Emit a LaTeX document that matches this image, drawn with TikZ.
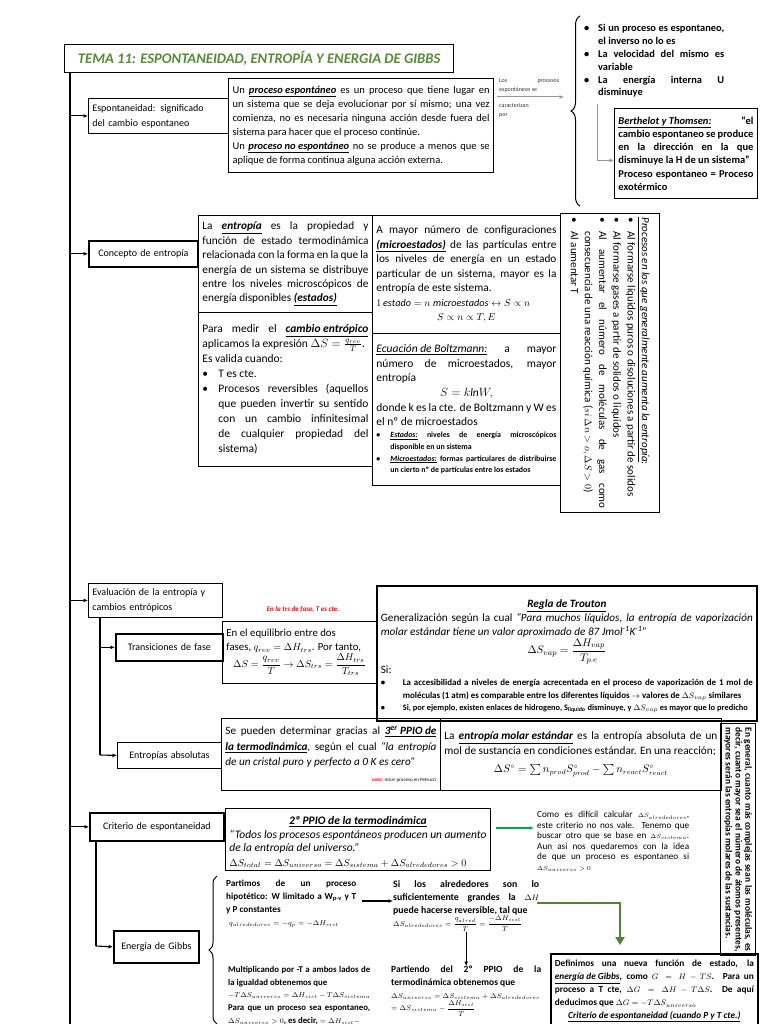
\documentclass[tikz,border=0pt]{standalone}
\usepackage{fontspec}
\setmainfont{Carlito}
\usepackage{amsmath}
\usetikzlibrary{arrows.meta,decorations.pathreplacing,calc}
\definecolor{tgreen}{RGB}{84,141,52}
\definecolor{agreen}{RGB}{0,170,80}
\definecolor{ogreen}{RGB}{84,130,53}
\definecolor{agray}{RGB}{150,150,150}
\setlength\parindent{0pt}
\newcommand\fs[2]{\fontsize{#1}{#2}\selectfont\hyphenpenalty=10000 \exhyphenpenalty=10000 \tolerance=9999 \emergencystretch=8pt }
\newcommand\mth[2]{{\fontsize{#1}{#1}\selectfont$#2$}}
\newcommand\bul[2][12pt]{\par\hangindent=#1\hangafter=1\noindent\hbox to #1{\textbullet\hss}#2\par}
\newcommand\ctr[1]{\par\hbox to\hsize{\hss#1\hss}\par}
\newcommand\rgt[1]{\par\hbox to\hsize{\hss#1}\par}
\newcommand\ul[1]{\underline{#1}}
\newcommand\ubi[1]{\textbf{\textit{\ul{#1}}}}
\newcommand\ui[1]{\textit{\ul{#1}}}
\tikzset{
  bx/.style={draw, line width=0.9pt, anchor=north west, inner xsep=4pt, inner ysep=3pt, align=justify},
  tbx/.style={bx, line width=1.7pt},
  txt/.style={anchor=north west, inner sep=0pt, align=justify},
  arr/.style={-{Latex[length=4.5pt,width=4pt]}, line width=1.1pt},
  spine/.style={line width=1.6pt},
  garr/.style={agray, line width=1pt, -{Latex[length=4.5pt,width=4pt]}},
}
\begin{document}
\begin{tikzpicture}[x=1pt,y=-1pt]
\useasboundingbox (0,0) rectangle (768,1024);
\clip (0,0) rectangle (768,1024);
\fill[white] (0,0) rectangle (768,1024);

% ---------- title and main spine
\node[draw, line width=1.3pt, anchor=north west, minimum width=389, minimum height=28,
      text=tgreen, font=\fs{14.6}{16}\bfseries\itshape] (title) at (64,44)
      {TEMA 11: ESPONTANEIDAD, ENTROPÍA Y ENERGIA DE GIBBS};
\coordinate (spT) at (70,72);
\coordinate (spB) at (70,1024);
\draw[spine] (spT) -- (spB);

% ---------- Espontaneidad
\node[bx, text width=132, minimum height=35, align=left, font=\fs{10}{15}] (esp) at (88,98)
  {Espontaneidad: significado\\del cambio espontaneo};
\node[bx, line width=1.2pt, text width=257, minimum height=94, font=\fs{10.5}{14}] (def) at (228,78)
  {Un \ubi{proceso espontáneo} es un proceso que tiene lugar en un sistema que se deja evolucionar por sí mismo; una vez comienza, no es necesaria ninguna acción desde fuera del sistema para hacer que el proceso continúe.\par
   Un \ubi{proceso no espontáneo} no se produce a menos que se aplique de forma continua alguna acción externa.};
\draw[arr] (spT |- esp.west) -- (esp.west);

\node[txt, anchor=south west, text width=60, text=black!80, font=\fs{6}{9}] (lp1) at (499,93)
  {Los\hfill procesos\\espontáneos se};
\node[txt, text width=60, align=left, text=black!80, font=\fs{6}{9}] (lp2) at (499,103)
  {caracterizan\\por};
\coordinate (ga1) at ($(def.north east)+(3,19)$);
\coordinate (ga2) at (564,97);
\draw[garr] (ga1) -- (ga2);
\draw[decorate, decoration={brace, amplitude=9pt}, line width=1pt] (580,206) -- (580,16);

\node[txt, text width=140, font=\fs{10.4}{12.8}\bfseries] (bl) at (584,19)
  {\bul[14pt]{Si un proceso es espontaneo, el inverso no lo es}
   \bul[14pt]{La velocidad del mismo es variable}
   \bul[14pt]{La energía interna U disminuye}};
\node[bx, text width=135, minimum height=90, font=\fs{10.5}{13.3}\bfseries] (bert) at (614,108)
  {\ui{Berthelot y Thomsen:} ``el cambio espontaneo se produce en la dirección en la que disminuye la H de un sistema''\par Proceso espontaneo = Proceso exotérmico};
\coordinate (e1) at (597,104);
\draw[garr] (e1) |- ($(bert.west)+(0,7)$);

% ---------- Concepto de entropia
\node[tbx, text width=101, minimum height=26, align=center, font=\fs{10}{12}] (conc) at (88,240)
  {Concepto de entropía};
\draw[arr] (spT |- conc.west) -- (conc.west);

\node[bx, text width=166, minimum height=97, font=\fs{11.3}{14.4}] (entA) at (198,215)
  {La \ubi{entropía} es la propiedad y función de estado termodinámica relacionada con la forma en la que la energía de un sistema se distribuye entre los niveles microscópicos de energía disponibles \ubi{(estados)}};
\node[bx, text width=166, minimum height=154, font=\fs{11.5}{15}] (entB) at (198,312)
  {Para medir el \ubi{cambio entrópico} aplicamos la expresión $\Delta S=\frac{q_{rev}}{T}$.\par
   Es valida cuando:\par
   \bul[16pt]{T es cte.}
   \bul[16pt]{Procesos reversibles (aquellos que pueden invertir su sentido con un cambio infinitesimal de cualquier propiedad del sistema)}};
\node[bx, text width=180, minimum height=118, font=\fs{11.3}{14.5}] (entC) at (372,215)
  {A mayor número de configuraciones \ubi{(microestados)} de las partículas entre los niveles de energía en un estado particular de un sistema, mayor es la entropía de este sistema.\par
   \mth{10.2}{1\,\mathit{estado}=n\;\mathit{microestados}\leftrightarrow S\propto n}
   \ctr{\mth{10.2}{S\propto n\propto T,E}}};
\node[bx, text width=180, minimum height=152, font=\fs{11.5}{14.6}] (entD) at (372,333)
  {\ui{Ecuación de Boltzmann:} a mayor número de microestados, mayor entropía
   \ctr{$S=k\mathit{ln}W,$}
   donde k es la cte. de Boltzmann y W es el nº de microestados\par
   {\fs{7.9}{11.8}\bfseries
   \bul[14pt]{\ui{Estados:} niveles de energía microscópicos disponible en un sistema}
   \bul[14pt]{\ui{Microestados:} formas particulares de distribuirse un cierto nº de partículas entre los estados}}};
\node[bx, rotate=-90, text width=291, minimum height=99, font=\fs{11}{14.2}] (entE) at (660,213)
  {\ui{Procesos en los que generalmente aumenta la entropía}:
   \bul[14pt]{Al formarse líquidos puros o disoluciones a partir de solidos}
   \bul[14pt]{Al formarse gases a partir de solidos o liquidos}
   \bul[14pt]{Al aumentar el número de moléculas de gas como consecuencia de una reacción química (\mth{10}{si\ \Delta n>o, \Delta S>0})}
   \bul[14pt]{Al aumentar T}};

% ---------- Evaluacion
\node[bx, text width=126, minimum height=34, align=left, font=\fs{10}{15}] (eval) at (88,583)
  {Evaluación de la entropía y\\cambios entrópicos};
\draw[arr] (spT |- eval.west) -- (eval.west);
\coordinate (ssE1) at (100,617);
\coordinate (ssE2) at (100,755);
\draw[line width=1.1pt] (ssE1) -- (ssE2);
\node[text=red, font=\fs{7}{8}\bfseries\itshape] (red) at (303,610) {En la trs de fase, T es cte.};

\node[tbx, text width=99, minimum height=27, align=center, font=\fs{10}{12}] (trans) at (115,633)
  {Transiciones de fase};
\draw[arr] (ssE1 |- trans.west) -- (trans.west);
\node[bx, text width=146, minimum height=62, font=\fs{10.8}{14}] (trs) at (222,621)
  {En el equilibrio entre dos\\fases, \mth{10}{q_{rev}=\Delta H_{trs}}. Por tanto,
   \ctr{\mth{10}{\Delta S=\dfrac{q_{rev}}{T}\rightarrow\Delta S_{trs}=\dfrac{\Delta H_{trs}}{T_{trs}}}}};
\node[tbx, text width=372, minimum height=135, font=\fs{11.2}{14}] (trou) at (376,585)
  {\ctr{\ubi{Regla de Trouton}}
   Generalización según la cual \textit{``Para muchos líquidos, la entropía de vaporización molar estándar tiene un valor aproximado de 87 Jmol\textsuperscript{-1}K\textsuperscript{-1}''}
   \ctr{$\Delta S_{vap}=\dfrac{\Delta H_{vap}}{T_{p.e}}$}
   Si:\par
   {\fs{8.9}{12.5}\bfseries
   \bul[22pt]{La accesibilidad a niveles de energía acrecentada en el proceso de vaporización de 1 mol de moléculas (1 atm) es comparable entre los diferentes líquidos \mth{8}{\rightarrow} valores de \mth{8}{\Delta S_{vap}} similares}}
   {\fs{8.4}{12.5}\bfseries
   \bul[22pt]{Si, por ejemplo, existen enlaces de hidrogeno, S\textsubscript{liquido} disminuye, y \mth{8}{\Delta S_{vap}} es mayor que lo predicho}}};

\node[bx, text width=96, minimum height=26, align=center, font=\fs{10}{12}] (abs) at (117,742)
  {Entropías absolutas};
\draw[arr] (ssE2) -- (abs.west);
\node[bx, text width=211, minimum height=72, font=\fs{11.2}{15.5}] (ppio3) at (221,718)
  {Se pueden determinar gracias al \textbf{\textit{\ul{3\textsuperscript{er} PPIO de} \ul{la termodinámica}}}, según el cual \textit{``la entropía de un cristal puro y perfecto a 0 K es cero''}
   \rgt{\fs{5}{7}\textcolor{red}{\textbf{\textit{nota:}}} mirar proceso en Petrucci}};
\node[bx, text width=273, minimum height=72, font=\fs{11.3}{15}] (molar) at (440,718)
  {La \ubi{entropía molar estándar} es la entropía absoluta de un mol de sustancia en condiciones estándar. En una reacción;\par\vskip3pt
   \ctr{\mth{10.5}{\Delta S^{\circ}=\sum n_{prod}S^{\circ}_{prod}-\sum n_{react}S^{\circ}_{react}}}};
\node[bx, rotate=-90, text width=224, minimum height=35, inner ysep=2pt, font=\fs{9.4}{9.8}\bfseries] (gen) at (756,723)
  {En general, cuanto más complejas sean las moléculas, es decir, cuanto mayor sea el número de átomos presentes, mayores serán las entropías molares de las sustancias.};

% ---------- Criterio de espontaneidad
\node[tbx, text width=126, minimum height=28, align=center, font=\fs{10}{12}] (crit) at (89,812)
  {Criterio de espontaneidad};
\draw[arr] (spT |- crit.west) -- (crit.west);
\coordinate (ssC1) at (96,840);
\coordinate (ssC2) at (96,946);
\draw[line width=1.1pt] (ssC1) -- (ssC2);
\node[bx, text width=257, minimum height=61, font=\fs{11.5}{13.3}] (ppio2) at (225,808)
  {\ctr{\ubi{2º PPIO de la termodinámica}}
   \textit{``Todos los procesos espontáneos producen un aumento de la entropía del universo.''}\par
   {\fs{10.2}{15}$\Delta S_{total}=\Delta S_{universo}=\Delta S_{sistema}+\Delta S_{alrededores}>0$\par}};
\node[txt, text width=152, font=\fs{9.2}{10.5}] (como) at (537,811)
  {Como es difícil calcular \mth{6.5}{\Delta S_{alrededores}},\linebreak este criterio no nos vale. Tenemo que buscar otro que se base en \mth{6.5}{\Delta S_{sistema}}. Aun asi nos quedaremos con la idea de que un proceso es espontaneo si \mth{6.5}{\Delta S_{universo}>0}};
\draw[agreen, line width=1.2pt, -{Latex[length=4.5pt,width=4pt]}] ($(ppio2.north east)+(5,20)$) -- ($(como.north west)+(-3,17)$);

% ---------- Energia de Gibbs
\node[tbx, text width=77, minimum height=32, align=center, font=\fs{10}{12}] (gibbs) at (113,930)
  {Energía de Gibbs};
\draw[arr] (ssC2) -- (gibbs.west);
\draw[decorate, decoration={brace, amplitude=8pt}, line width=1pt] (217,1024) -- (217,876);

\node[txt, text width=130, font=\fs{9.2}{13}\bfseries] (p1) at (226,880)
  {Partimos de un proceso\linebreak hipotético: W limitado a W\textsubscript{p-v} y T\linebreak y P constantes\par
   \hspace*{3pt}\mth{7.5}{q_{alrededores}=-q_p=-\Delta H_{sist}}};
\node[txt, text width=146, font=\fs{9.8}{13}\bfseries] (s1) at (393,880)
  {Si los alrededores son lo suficientemente grandes la \mth{8}{\Delta H} puede hacerse reversible, tal que\par
   \mth{7.5}{\Delta S_{alrededores}=\dfrac{q_{alred}}{T}=\dfrac{-\Delta H_{sist}}{T}}};
\draw[arr] ($(p1.north east)+(6,21)$) -- ($(s1.north west)+(0,21)$);
\node[txt, text width=142, font=\fs{8.8}{12.7}\bfseries] (m1) at (228,966)
  {Multiplicando por -T a ambos lados de la igualdad obtenemos que\par
   \mth{7.3}{-T\Delta S_{universo}=\Delta H_{sist}-T\Delta S_{sistema}}\par
   Para que un proceso sea espontaneo, \mth{7.3}{\Delta S_{universo}>0}, es decir, \mth{7.3}{=\Delta H_{sist}-}};
\node[txt, text width=150, font=\fs{9.5}{12.7}\bfseries] (p2) at (391,966)
  {Partiendo del 2º PPIO de la termodinámica obtenemos que\par
   \mth{7.3}{\Delta S_{universo}=\Delta S_{sistema}+\Delta S_{alrededores}}\par
   \mth{7.3}{=\Delta S_{sistema}-\dfrac{\Delta H_{sist}}{T}}};
\draw[arr, line width=0.9pt] (s1.south) -- (p2.north);
\node[tbx, text width=199, minimum height=86, font=\fs{9.3}{13}\bfseries] (def2) at (550,953)
  {Definimos una nueva función de estado, la \ui{energía de Gibbs}, como \mth{8}{G=H-TS}. Para un proceso a T cte, \mth{8}{\Delta G=\Delta H-T\Delta S}. De aquí deducimos que \mth{8}{\Delta G=-T\Delta S_{universo}}
   \ctr{\ui{Criterio de espontaneidad (cuando P y T cte.)}}
   \hspace*{8pt}-\hspace{8pt}\mth{8}{\Delta G<0\rightarrow} \textit{espontaneo (exergonico)}};
\draw[ogreen, line width=2.6pt, -{Triangle[length=8pt,width=9pt]}] ($(s1.north east)+(-2,23)$) -| ($(def2.north west)+(70,-8)$);
\end{tikzpicture}
\end{document}
